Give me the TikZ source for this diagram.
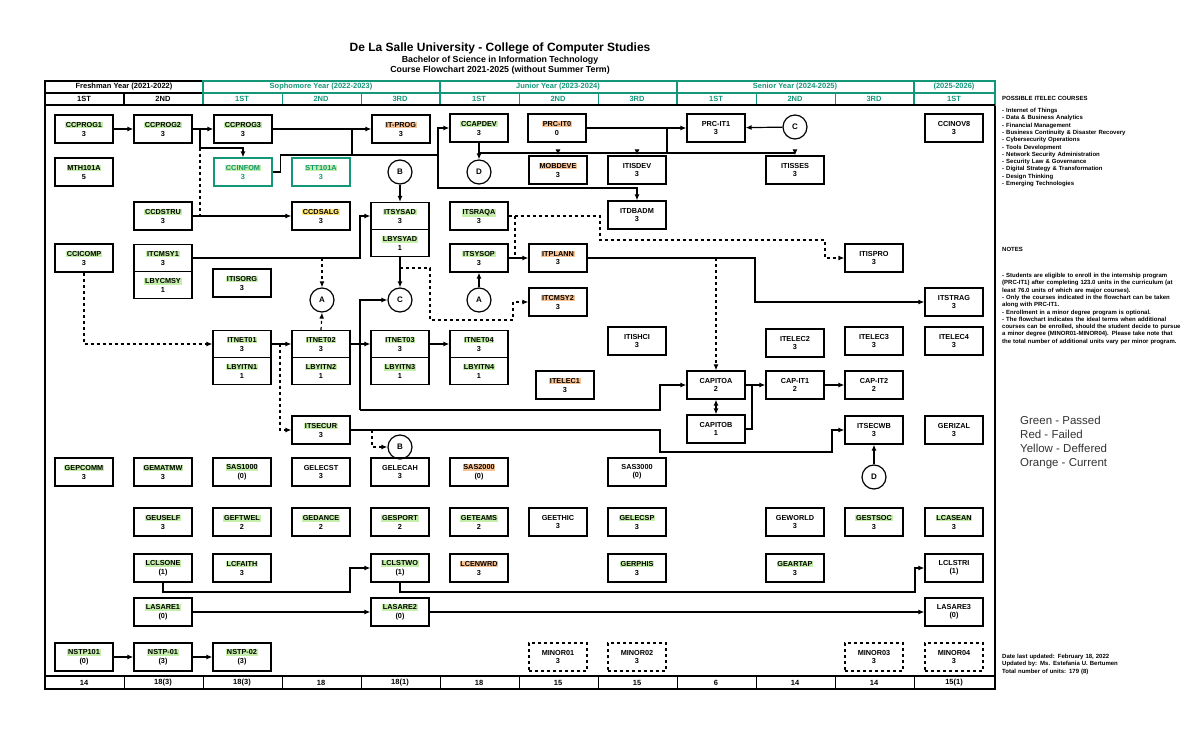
\documentclass[tikz,border=0pt]{standalone}
\usepackage{fontspec}
\setmainfont{Liberation Sans}
\usetikzlibrary{arrows.meta}
\definecolor{teal2}{RGB}{20,150,120}
\definecolor{hlg}{RGB}{196,238,170}
\definecolor{hlo}{RGB}{248,196,150}
\definecolor{hly}{RGB}{255,230,120}
\setlength{\fboxsep}{0.7pt}
\newcommand\hG[1]{\colorbox{hlg}{#1}}
\newcommand\hO[1]{\colorbox{hlo}{#1}}
\newcommand\hY[1]{\colorbox{hly}{#1}}
\tikzset{
 cbox/.style={draw,line width=1.2pt,minimum width=58pt,minimum height=28pt,align=center,inner sep=1pt,font=\fontsize{7.3}{8.3}\selectfont\bfseries},
 hbox/.style={cbox,minimum height=27pt},
 tbox/.style={cbox,draw=teal2,text=teal2},
 mbox/.style={cbox,dashed},
 circ/.style={draw,circle,line width=1.2pt,minimum size=24pt,inner sep=0pt,font=\fontsize{8}{9}\selectfont\bfseries},
 ln/.style={line width=1.2pt},
 ar/.style={ln,-{Latex[length=6pt,width=5pt]}},
 dar/.style={ar,dashed},
 dl/.style={ln,dashed},
 hd/.style={font=\fontsize{7.5}{8}\selectfont\bfseries},
 side/.style={font=\fontsize{6}{7.3}\selectfont\bfseries,align=left,anchor=north west,inner sep=0pt,text width=180pt},
}
\begin{document}
\begin{tikzpicture}[x=1pt,y=-1pt]
\useasboundingbox (0,0) rectangle (1200,735);
% title
\node[font=\fontsize{12}{12}\selectfont\bfseries] (t1) at (500,48) {De La Salle University - College of Computer Studies};
\node[font=\fontsize{8.8}{9}\selectfont\bfseries] (t2) at (500,60) {Bachelor of Science in Information Technology};
\node[font=\fontsize{8.8}{9}\selectfont\bfseries] (t3) at (500,70) {Course Flowchart 2021-2025 (without Summer Term)};
% table frame
\draw[line width=1.2pt] (45,81) rectangle (995,689);
\draw[line width=1.2pt] (45,676) -- (995,676);
\foreach \x in {124,203,282,361,440,519,598,677,756,835,914} \draw[line width=1pt] (\x,676) -- (\x,689);
\foreach \x/\t [count=\i] in {84/14,163/18(3),242/18(3),321/18,400/18(1),479/18,558/15,637/15,716/6,795/14,874/14,954/15(1)}
  \node[hd] (b\i) at (\x,682.5) {\t};
% header
\draw[line width=1.2pt] (45,81) rectangle (203,105);
\draw[line width=1.2pt] (45,93) -- (203,93) (124,93) -- (124,105);
\draw[line width=1.2pt,teal2] (203,81) rectangle (995,105);
\draw[line width=1.2pt,teal2] (203,93) -- (995,93);
\foreach \x in {282,361,519,598,756,835} \draw[line width=1pt,teal2] (\x,93) -- (\x,105);
\foreach \x in {440,677,914} \draw[line width=1.2pt,teal2] (\x,81) -- (\x,105);
\draw[line width=1.2pt] (45,105) -- (995,105);
\node[hd] (y1) at (124,87) {Freshman Year (2021-2022)};
\node[hd,teal2] (y2) at (321,87) {Sophomore Year (2022-2023)};
\node[hd,teal2] (y3) at (558,87) {Junior Year (2023-2024)};
\node[hd,teal2] (y4) at (795,87) {Senior Year (2024-2025)};
\node[hd,teal2] (y5) at (954,87) {(2025-2026)};
\node[hd] (s1) at (84,99) {1ST};
\node[hd] (s2) at (163,99) {2ND};
\foreach \x/\t [count=\i] in {242/1ST,321/2ND,400/3RD,479/1ST,558/2ND,637/3RD,716/1ST,795/2ND,874/3RD,954/1ST}
  \node[hd,teal2] (s\i x) at (\x,99) {\t};
% row 1
\node[cbox] (ccprog1) at (84,129) {\hG{CCPROG1}\\3};
\node[cbox] (ccprog2) at (163,129) {\hG{CCPROG2}\\3};
\node[cbox] (ccprog3) at (243,129) {\hG{CCPROG3}\\3};
\node[cbox] (itprog) at (401,129) {\hO{IT-PROG}\\3};
\node[cbox] (ccapdev) at (479,128) {\hG{CCAPDEV}\\3};
\node[cbox] (prcit0) at (557,128) {\hO{PRC-IT0}\\0};
\node[cbox] (prcit1) at (716,128) {PRC-IT1\\3};
\node[circ] (cC1) at (795,127) {C};
\node[cbox] (ccinov8) at (954,128) {CCINOV8\\3};
% row 2
\node[cbox] (mth) at (84,172) {\hG{MTH101A}\\5};
\node[tbox] (ccinfom) at (243,172) {\hG{CCINFOM}\\3};
\node[tbox] (stt) at (321,172) {\hG{STT101A}\\3};
\node[circ] (cB1) at (400,172) {B};
\node[circ] (cD1) at (479,172) {D};
\node[cbox] (mobdeve) at (558,170) {\hO{MOBDEVE}\\3};
\node[cbox] (itisdev) at (637,170) {ITISDEV\\3};
\node[cbox] (itisses) at (795,170) {ITISSES\\3};
% row 3
\node[cbox] (ccdstru) at (163,216) {\hG{CCDSTRU}\\3};
\node[cbox] (ccdsalg) at (321,216) {\hY{CCDSALG}\\3};
\node[hbox] (itsysad) at (400,216) {\hG{ITSYSAD}\\3};
\node[hbox] (lbysyad) at (400,243) {\hG{LBYSYAD}\\1};
\node[cbox] (itsraqa) at (479,216) {\hG{ITSRAQA}\\3};
\node[cbox] (itdbadm) at (637,215) {ITDBADM\\3};
% row 4
\node[cbox] (ccicomp) at (84,258) {\hG{CCICOMP}\\3};
\node[hbox] (itcmsy1) at (163,258) {\hG{ITCMSY1}\\3};
\node[hbox] (lbycmsy) at (163,285) {\hG{LBYCMSY}\\1};
\node[cbox] (itisorg) at (242,283) {\hG{ITISORG}\\3};
\node[cbox] (itsysop) at (479,258) {\hG{ITSYSOP}\\3};
\node[cbox] (itplann) at (558,258) {\hO{ITPLANN}\\3};
\node[cbox] (itispro) at (874,258) {ITISPRO\\3};
\node[circ] (cA1) at (322,300) {A};
\node[circ] (cC2) at (400,300) {C};
\node[circ] (cA2) at (479,300) {A};
\node[cbox] (itcmsy2) at (558,302) {\hO{ITCMSY2}\\3};
\node[cbox] (itstrag) at (954,302) {ITSTRAG\\3};
% network row
\node[hbox] (itnet01) at (242,344) {\hG{ITNET01}\\3};
\node[hbox] (lbyitn1) at (242,371) {\hG{LBYITN1}\\1};
\node[hbox] (itnet02) at (321,344) {\hG{ITNET02}\\3};
\node[hbox] (lbyitn2) at (321,371) {\hG{LBYITN2}\\1};
\node[hbox] (itnet03) at (400,344) {\hG{ITNET03}\\3};
\node[hbox] (lbyitn3) at (400,371) {\hG{LBYITN3}\\1};
\node[hbox] (itnet04) at (479,344) {\hG{ITNET04}\\3};
\node[hbox] (lbyitn4) at (479,371) {\hG{LBYITN4}\\1};
\node[cbox] (itishci) at (637,341) {ITISHCI\\3};
\node[cbox] (itelec2) at (795,343) {ITELEC2\\3};
\node[cbox] (itelec3) at (874,341) {ITELEC3\\3};
\node[cbox] (itelec4) at (954,341) {ITELEC4\\3};
\node[cbox] (itelec1) at (565,385) {\hO{ITELEC1}\\3};
\node[cbox] (capitoa) at (716,385) {CAPITOA\\2};
\node[cbox] (capit1) at (795,385) {CAP-IT1\\2};
\node[cbox] (capit2) at (874,385) {CAP-IT2\\2};
\node[cbox] (itsecur) at (321,430) {\hG{ITSECUR}\\3};
\node[circ] (cB2) at (400,447) {B};
\node[cbox] (capitob) at (716,429) {CAPITOB\\1};
\node[cbox] (itsecwb) at (874,430) {ITSECWB\\3};
\node[cbox] (gerizal) at (954,430) {GERIZAL\\3};
\node[circ] (cD2) at (874,477) {D};
% GE rows
\node[cbox] (gepcomm) at (84,472) {\hG{GEPCOMM}\\3};
\node[cbox] (gematmw) at (163,472) {\hG{GEMATMW}\\3};
\node[cbox] (sas1000) at (242,472) {\hG{SAS1000}\\(0)};
\node[cbox] (gelecst) at (321,472) {GELECST\\3};
\node[cbox] (gelecah) at (400,472) {GELECAH\\3};
\node[cbox] (sas2000) at (479,472) {\hO{SAS2000}\\(0)};
\node[cbox] (sas3000) at (637,472) {SAS3000\\(0)};
\node[cbox] (geuself) at (163,522) {\hG{GEUSELF}\\3};
\node[cbox] (geftwel) at (242,522) {\hG{GEFTWEL}\\2};
\node[cbox] (gedance) at (321,522) {\hG{GEDANCE}\\2};
\node[cbox] (gesport) at (400,522) {\hG{GESPORT}\\2};
\node[cbox] (geteams) at (479,522) {\hG{GETEAMS}\\2};
\node[cbox] (geethic) at (558,522) {GEETHIC\\3};
\node[cbox] (gelecsp) at (637,522) {\hG{GELECSP}\\3};
\node[cbox] (geworld) at (795,522) {GEWORLD\\3};
\node[cbox] (gestsoc) at (874,522) {\hG{GESTSOC}\\3};
\node[cbox] (lcasean) at (954,522) {\hG{LCASEAN}\\3};
\node[cbox] (lclsone) at (163,568) {\hG{LCLSONE}\\(1)};
\node[cbox] (lcfaith) at (242,568) {\hG{LCFAITH}\\3};
\node[cbox] (lclstwo) at (400,568) {\hG{LCLSTWO}\\(1)};
\node[cbox] (lcenwrd) at (479,568) {\hO{LCENWRD}\\3};
\node[cbox] (gerphis) at (637,568) {\hG{GERPHIS}\\3};
\node[cbox] (geartap) at (795,568) {\hG{GEARTAP}\\3};
\node[cbox] (lclstri) at (954,568) {LCLSTRI\\(1)};
\node[cbox] (lasare1) at (163,612) {\hG{LASARE1}\\(0)};
\node[cbox] (lasare2) at (400,612) {\hG{LASARE2}\\(0)};
\node[cbox] (lasare3) at (954,612) {LASARE3\\(0)};
\node[cbox] (nstp101) at (84,657) {\hG{NSTP101}\\(0)};
\node[cbox] (nstp01) at (163,657) {\hG{NSTP-01}\\(3)};
\node[cbox] (nstp02) at (242,657) {\hG{NSTP-02}\\(3)};
\node[mbox] (minor01) at (558,657) {MINOR01\\3};
\node[mbox] (minor02) at (637,657) {MINOR02\\3};
\node[mbox] (minor03) at (874,657) {MINOR03\\3};
\node[mbox] (minor04) at (954,657) {MINOR04\\3};
% connectors
\draw[ar] (ccprog1) -- (ccprog2);
\draw[ar] (ccprog2) -- (ccprog3);
\coordinate (j1) at (200,129);
\coordinate (j1b) at (200,148);
\draw[ar] (j1) -- (j1b) -| (ccinfom.north);
\draw[dl] (j1b) -- (j1 |- ccdstru);
\draw[ar] (ccdstru) -- (ccdsalg);
\draw[ar] (ccprog3) -- (itprog);
\coordinate (j2) at (352,129);
\coordinate (j2b) at (352,155);
\coordinate (j3) at (438,155);
\coordinate (j3b) at (438,188);
\draw[ln] (j2) -- (j2b);
\draw[ln] (ccinfom.east) -- ++(8,0) |- (j3);
\draw[ar] (j3) |- (ccapdev.west);
\draw[ar] (j3) -- (j3b) -| (itdbadm.north);
\coordinate (j4) at (479,153);
\coordinate (j4b) at (795,153);
\draw[ar] (ccapdev.south) -- (cD1.north);
\draw[ln] (j4) -- (j4b);
\draw[ar] (j4 -| mobdeve) -- (mobdeve.north);
\draw[ar] (j4 -| itisdev) -- (itisdev.north);
\draw[ar] (j4b) -- (itisses.north);
\draw[ar] (prcit0) -- (prcit1);
\coordinate (j5) at (667,128);
\draw[ln] (j5) -- (j5 |- j4);
\draw[ar] (cC1) -- (prcit1);
\draw[ar] (cB1) -- (itsysad);
\coordinate (j6) at (360,258);
\draw[ar] (itcmsy1.east) -- (j6) |- (itsysad.west);
\draw[dar] (cA1.north |- j6) -- (cA1.north);
\draw[dar] (itnet02.north) -- (cA1.south);
\draw[ar] (lbysyad.south) -- (cC2.north);
\coordinate (j7) at (400,268);
\draw[dar] (j7) -- (430,268) -- (430,320) -- (513,320) |- (itcmsy2.west);
\coordinate (j8) at (515,216);
\draw[dar] (itsraqa.east) -- (600,216) -- (600,240) -- (825,240) |- (itispro.west);
\draw[dl] (j8) -- (j8 |- itplann);
\draw[ar] (itsysop) -- (itplann);
\coordinate (j9) at (755,258);
\draw[ar] (itplann.east) -- (j9) |- (itstrag.west);
\draw[dar] (capitoa.north |- itplann) -- (capitoa.north);
\draw[ar] (cA2) -- (itsysop);
\draw[dar] (ccicomp.south) |- (itnet01.west);
\draw[ar] (itnet01) -- (itnet02);
\coordinate (j10) at (280,344);
\draw[dar] (j10) |- (itsecur.west);
\draw[ar] (itnet02) -- (itnet03);
\coordinate (j11) at (360,410);
\draw[ar] (j11) |- (cC2.west);
\draw[ar] (j11) -- (660,410) |- (capitoa.west);
\fill (360,344) circle (1.5pt);
\draw[ar] (itnet03) -- (itnet04);
\draw[ar] (itsecur.east) -- (660,430) -- (660,452) -- (832,452) |- (itsecwb.west);
\coordinate (j12) at (372,430);
\draw[dar] (j12) |- (cB2.west);
\draw[ln,{Latex[length=6pt,width=5pt]}-{Latex[length=6pt,width=5pt]}] (capitoa) -- (capitob);
\draw[ar] (capitoa) -- (capit1);
\draw[ln] (capitob.east) -- (752,429) -- (752,385);
\draw[ar] (capit1) -- (capit2);
\draw[ar] (cD2) -- (itsecwb);
\draw[ar] (lclsone.south) -- (163,592) -- (350,592) |- (lclstwo.west);
\draw[ar] (lclstwo.south) -- (400,592) -- (915,592) |- (lclstri.west);
\draw[ar] (lasare1) -- (lasare2);
\draw[ar] (lasare2) -- (lasare3);
\draw[ar] (nstp101) -- (nstp01);
\draw[ar] (nstp01) -- (nstp02);
% side panel
\node[side] (pos) at (1002,96) {POSSIBLE ITELEC COURSES};
\node[side] (posl) at (1002,108) {- Internet of Things\\- Data \& Business Analytics\\- Financial Management\\- Business Continuity \& Disaster Recovery\\- Cybersecurity Operations\\- Tools Development\\- Network Security Administration\\- Security Law \& Governance\\- Digital Strategy \& Transformation\\- Design Thinking\\- Emerging Technologies};
\node[side] (notes) at (1002,247) {NOTES};
\node[side] (notel) at (1002,273) {- Students are eligible to enroll in the internship program (PRC-IT1) after completing 123.0 units in the curriculum (at least 76.0 units of which are major courses).\\- Only the courses indicated in the flowchart can be taken along with PRC-IT1.\\- Enrollment in a minor degree program is optional.\\- The flowchart indicates the ideal terms when additional courses can be enrolled, should the student decide to pursue a minor degree (MINOR01-MINOR04). Please take note that the total number of additional units vary per minor program.};
\node[anchor=north west,align=left,inner sep=0pt,font=\fontsize{11.5}{14}\selectfont,text=black!80] (leg) at (1020,416) {Green - Passed\\Red - Failed\\Yellow - Deffered\\Orange - Current};
\node[side] (foot) at (1002,654) {Date last updated: February 18, 2022\\Updated by: Ms. Estefania U. Bertumen\\Total number of units: 179 (8)};
\end{tikzpicture}
\end{document}
